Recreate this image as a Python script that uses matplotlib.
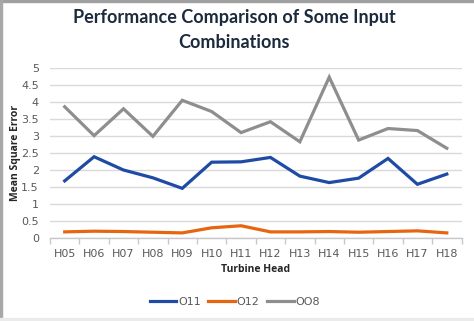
import matplotlib.pyplot as plt
import matplotlib.patches as mpatches

heads = ["H05", "H06", "H07", "H08", "H09", "H10", "H11",
         "H12", "H13", "H14", "H15", "H16", "H17", "H18"]
o11 = [1.68, 2.39, 2.00, 1.77, 1.46, 2.23, 2.24, 2.37, 1.82, 1.63, 1.76, 2.34, 1.58, 1.88]
o12 = [0.18, 0.20, 0.19, 0.17, 0.15, 0.30, 0.36, 0.18, 0.18, 0.19, 0.17, 0.19, 0.21, 0.15]
oo8 = [3.86, 3.01, 3.80, 2.99, 4.05, 3.72, 3.10, 3.42, 2.83, 4.73, 2.88, 3.22, 3.16, 2.64]
yticks = [0, 0.5, 1, 1.5, 2, 2.5, 3, 3.5, 4, 4.5, 5]

fig = plt.figure(figsize=(4.74, 3.21), dpi=100)
ax = fig.add_axes([50 / 474, 1 - 238 / 321, 411.5 / 474, 170 / 321])

x = range(len(heads))
ax.plot(x, o11, color="#1F4BA5", linewidth=2.3, label="O11", solid_joinstyle="miter")
ax.plot(x, o12, color="#E8650F", linewidth=2.3, label="O12", solid_joinstyle="miter")
ax.plot(x, oo8, color="#8E8E8E", linewidth=2.3, label="OO8", solid_joinstyle="miter")

ax.set_xlim(-0.5, len(heads) - 0.5)
ax.set_ylim(0, 5)
ax.set_yticks(yticks)
ax.set_yticklabels([f"{v:g}" for v in yticks])
ax.set_xticks(list(x))
ax.set_xticklabels(heads)
ax.set_xticks([i + 0.5 for i in range(-1, len(heads))], minor=True)

ax.grid(axis="y", color="#D9D9D9", linewidth=1)
ax.set_axisbelow(True)
for side in ["top", "right", "left"]:
    ax.spines[side].set_visible(False)
ax.spines["bottom"].set_color("#C8C8C8")
ax.spines["bottom"].set_linewidth(1)

ax.tick_params(axis="y", length=0, pad=8, labelsize=8, labelcolor="#595959")
ax.tick_params(axis="x", which="major", length=0, pad=8, labelsize=8, labelcolor="#595959")
ax.tick_params(axis="x", which="minor", length=4, color="#C8C8C8", width=1)

fig.text(16 / 474, 1 - 153 / 321, "Mean Square Error", rotation=90, ha="center", va="center",
         fontsize=7.5, fontweight="bold", color="#262626", family="Open Sans")
fig.text(256 / 474, 1 - 269 / 321, "Turbine Head", ha="center", va="center",
         fontsize=7.5, fontweight="bold", color="#262626", family="Open Sans")

fig.text(234 / 474, 1 - 18 / 321, "Performance Comparison of Some Input", ha="center", va="center",
         fontsize=13, fontweight="bold", color="#1B2A3C", family="Lato")
fig.text(234 / 474, 1 - 43 / 321, "Combinations", ha="center", va="center",
         fontsize=13, fontweight="bold", color="#1B2A3C", family="Lato")

fig.legend(loc="center", bbox_to_anchor=(235 / 474, 1 - 302 / 321), ncol=3, frameon=False,
           fontsize=8, handlelength=2.4, handletextpad=0.15, columnspacing=0.7,
           labelcolor="#595959")

# gray frame around the chart
fig.patches.append(mpatches.Rectangle((0, 1 - 2 / 321), 1, 2 / 321, transform=fig.transFigure,
                                      color="#A0A0A0", zorder=10))
fig.patches.append(mpatches.Rectangle((0, 0), 2 / 474, 1, transform=fig.transFigure,
                                      color="#A8A8A8", zorder=10))
fig.patches.append(mpatches.Rectangle((0, 0), 1, 3 / 321, transform=fig.transFigure,
                                      color="#EBEBEB", zorder=10))

fig.savefig("out.png", dpi=100)
